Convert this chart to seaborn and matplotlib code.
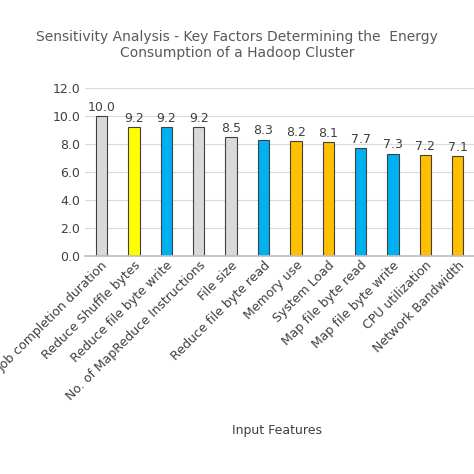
import numpy as np
import pandas as pd
import seaborn as sns
import matplotlib.pyplot as plt

features = ["Job completion duration", "Reduce Shuffle bytes", "Reduce file byte write",
            "No. of MapReduce Instructions", "File size", "Reduce file byte read",
            "Memory use", "System Load", "Map file byte read", "Map file byte write",
            "CPU utilization", "Network Bandwidth"]
scores = [10.0, 9.2, 9.2, 9.2, 8.5, 8.3, 8.2, 8.1, 7.7, 7.3, 7.2, 7.1]
colors = ["#d9d9d9", "#ffff00", "#00b0f0", "#d9d9d9", "#d9d9d9", "#00b0f0",
          "#ffc000", "#ffc000", "#00b0f0", "#00b0f0", "#ffc000", "#ffc000"]

sns.set_theme(style="white")
plt.rcParams['font.family'] = ['DejaVu Sans']

df = pd.DataFrame({"feature": features, "score": scores})
fig = plt.figure(figsize=(4.74, 4.74), dpi=100)
ax = fig.add_axes([0.18, 0.46, 0.82, 0.355])
sns.barplot(data=df, x="feature", y="score", hue="feature", palette=colors,
            legend=False, width=0.35, edgecolor="#404040", linewidth=0.8,
            saturation=1, ax=ax)
for i, v in enumerate(scores):
    ax.text(i, v + 0.15, f"{v:.1f}", ha="center", va="bottom", fontsize=9, color="#404040")
ax.set_ylim(0, 12)
ax.set_yticks(np.arange(0, 12.1, 2))
ax.set_yticklabels([f"{t:.1f}" for t in np.arange(0, 12.1, 2)], fontsize=9, color="#404040")
ax.yaxis.grid(True, color="#d9d9d9", linewidth=0.8)
ax.set_axisbelow(True)
for s in ["top", "right", "left"]:
    ax.spines[s].set_visible(False)
ax.spines["bottom"].set_color("#bfbfbf")
ax.tick_params(axis="x", length=0, pad=2)
ax.tick_params(axis="y", length=0)
plt.setp(ax.get_xticklabels(), rotation=45, ha="right", rotation_mode="anchor",
         fontsize=9, color="#404040")
ax.set_xlabel("")
ax.set_ylabel("")
fig.text(0.5, 0.905, "Sensitivity Analysis - Key Factors Determining the  Energy\nConsumption of a Hadoop Cluster",
         ha="center", va="center", fontsize=10, color="#595959")
fig.text(0.585, 0.085, "Input Features", ha="center", fontsize=9, color="#404040")
fig.savefig("out.png", dpi=100)
